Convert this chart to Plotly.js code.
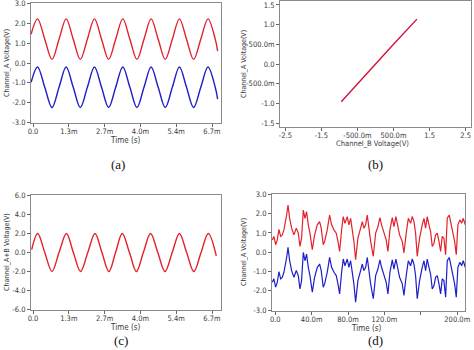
<!DOCTYPE html>
<html>
<head>
<meta charset="utf-8">
<script src="https://cdn.plot.ly/plotly-3.0.1.min.js"></script>
<style>
html,body{margin:0;padding:0;background:#fff;}
#chart{width:474px;height:350px;}
</style>
</head>
<body>
<div id="chart"></div>
<script>
// ---------- (a) Channel A / Channel B vs time (ms) ----------
const timeA = [-0.07,0.17,0.44,0.71,0.975,1.24,1.505,1.77,2.035,2.30,2.565,2.83,3.095,3.36,3.625,3.89,4.155,4.42,4.685,4.95,5.215,5.48,5.745,6.01,6.28,6.55,6.82,6.91];
const chanA_a = [1.45,2.22,1.20,0.18,1.20,2.22,1.20,0.18,1.20,2.22,1.20,0.18,1.20,2.22,1.20,0.18,1.20,2.22,1.20,0.18,1.20,2.22,1.20,0.18,1.20,2.22,1.20,0.60];
const chanB_a = [-0.97,-0.20,-1.22,-2.24,-1.22,-0.20,-1.22,-2.24,-1.22,-0.20,-1.22,-2.24,-1.22,-0.20,-1.22,-2.24,-1.22,-0.20,-1.22,-2.24,-1.22,-0.20,-1.22,-2.24,-1.22,-0.20,-1.22,-1.82];

// ---------- (b) Channel A vs Channel B ----------
const chanB_b = [-0.95,-0.50,0.00,0.50,1.15];
const chanA_b = [-0.96,-0.50,0.00,0.50,1.14];

// ---------- (c) Channel A+B vs time (ms) ----------
const timeC = [-0.05,0.175,0.44,0.71,0.975,1.25,1.51,1.78,2.05,2.32,2.58,2.84,3.09,3.34,3.61,3.87,4.13,4.40,4.67,4.94,5.21,5.48,5.75,6.02,6.29,6.56,6.86];
const chanAB_c = [0.30,2.0,0.0,-2.0,0.0,2.0,0.0,-2.0,0.0,2.0,0.0,-2.0,0.0,2.0,0.0,-2.0,0.0,2.0,0.0,-2.0,0.0,2.0,0.0,-2.0,0.0,2.0,-0.35];

// ---------- (d) noisy Channel A / Channel B vs time (ms) ----------
const timeD = [-3.3,-1.5,0.4,2.2,4.0,5.9,7.7,9.5,12.5,14.0,
  15.8,18.0,20.5,23.1,25.3,27.1,28.9,30.8,32.6,34.4,
  36.3,38.1,40.7,43.2,46.2,48.7,50.5,52.7,54.2,57.1,
  59.7,61.9,64.5,67.0,68.9,70.7,72.9,74.7,76.6,79.1,
  80.9,82.8,84.6,86.4,88.3,90.8,93.8,95.6,97.4,99.3,
  101.1,102.9,104.8,107.7,110.3,112.8,115.0,116.8,119.4,121.9,
  123.8,126.0,128.6,130.4,132.6,134.8,136.6,139.6,141.4,143.9,
  146.2,148.7,150.5,152.4,154.2,156.0,158.6,161.5,163.4,165.2,
  167.0,168.9,170.7,172.5,174.4,176.2,178.0,179.9,181.7,183.5,
  185.3,187.2,189.0,191.2,193.4,195.2,197.1,198.9,200.7,202.9,
  204.8,206.6,208.8,210.3];
const chanA_d = [0.64,0.82,0.39,0.64,1.19,0.82,0.90,1.16,1.93,2.45,
  1.76,1.25,0.90,1.25,0.99,0.30,0.73,2.19,1.76,2.10,
  1.42,0.99,0.13,0.90,1.42,1.59,1.25,0.39,0.56,1.16,
  1.93,1.42,1.16,0.99,0.56,0.04,1.16,1.85,1.50,1.85,
  1.42,1.76,1.16,0.56,-0.39,0.73,1.25,1.59,1.25,1.42,
  1.93,1.16,0.56,-0.21,0.99,1.33,1.80,1.42,1.07,0.64,
  0.04,1.16,1.80,1.33,1.85,1.25,0.90,0.56,-0.04,0.99,
  1.76,1.50,1.85,1.59,0.99,-0.21,0.73,1.42,1.76,1.25,
  1.85,1.42,1.07,0.30,0.47,0.90,0.99,0.56,0.04,0.82,
  0.73,-0.13,1.76,1.93,1.42,0.90,0.56,-0.13,1.42,1.68,
  1.50,1.76,1.42,1.59];
const chanB_d = [-1.56,-1.38,-1.81,-1.56,-1.01,-1.38,-1.30,-1.04,-0.27,0.25,
  -0.44,-0.95,-1.30,-0.95,-1.21,-1.90,-1.47,-0.01,-0.44,-0.10,
  -0.78,-1.21,-2.07,-1.30,-0.78,-0.61,-0.95,-1.81,-1.64,-1.04,
  -0.27,-0.78,-1.04,-1.21,-1.64,-2.16,-1.04,-0.35,-0.70,-0.35,
  -0.78,-0.44,-1.04,-1.64,-2.59,-1.47,-0.95,-0.61,-0.95,-0.78,
  -0.27,-1.04,-1.64,-2.41,-1.21,-0.87,-0.40,-0.78,-1.13,-1.56,
  -2.16,-1.04,-0.40,-0.87,-0.35,-0.95,-1.30,-1.64,-2.24,-1.21,
  -0.44,-0.70,-0.35,-0.61,-1.21,-2.41,-1.47,-0.78,-0.44,-0.95,
  -0.35,-0.78,-1.13,-1.90,-1.73,-1.30,-1.21,-1.64,-2.16,-1.38,
  -1.47,-2.33,-0.44,-0.27,-0.78,-1.30,-1.64,-2.33,-0.78,-0.52,
  -0.70,-0.44,-0.78,-0.61];

// ---------- tick labels ----------
const timeTickVals = [0,1.34,2.68,4.02,5.36,6.7];
const timeTickText = ["0.0","1.3m","2.7m","4.0m","5.4m","6.7m"];
const voltTickVals3 = [-3,-2,-1,0,1,2,3];
const voltTickText3 = ["-3.0","-2.0","-1.0","0.0","1.0","2.0","3.0"];
const bxTickVals = [-2.5,-1.5,-0.5,0.5,1.5,2.5];
const bxTickText = ["-2.5","-1.5","-500.0m","500.0m","1.5","2.5"];
const byTickVals = [-1.5,-1,-0.5,0,0.5,1,1.5];
const byTickText = ["-1.5","-1.0","-500.0m","0.0","500.0m","1.0","1.5"];
const cyTickVals = [-6,-4,-2,0,2,4,6];
const cyTickText = ["-6.0","-4.0","-2.0","0.0","2.0","4.0","6.0"];
const dxTickVals = [0,40,80,120,160,200];
const dxTickText = ["0.0","40.0m","80.0m","120.0m","","200.0m"];

const RED = '#e3212b', BLUE = '#1f1fc8', CRIMSON = '#d8113a';
const W = 474, H = 350;
const FONT = "'Liberation Sans Narrow', 'DejaVu Sans Condensed', 'Liberation Sans', Arial, sans-serif";

function xd(l, r){ return [l/W, r/W]; }
function yd(t, b){ return [1 - b/H, 1 - t/H]; }

function axis(extra){
  return Object.assign({
    showgrid:false, zeroline:false, showline:true, linecolor:'#8a8a8a', linewidth:1, mirror:true,
    ticks:'outside', ticklen:3, tickcolor:'#666', tickwidth:1, ticklabeloverflow:'allow',
    tickmode:'array', tickfont:{family:FONT, size:7.5, color:'#3a3a3a'}, fixedrange:true
  }, extra);
}

const traces = [
  {x:timeA, y:chanA_a, xaxis:'x', yaxis:'y', mode:'lines', line:{color:RED, width:1.4, shape:'spline'}},
  {x:timeA, y:chanB_a, xaxis:'x', yaxis:'y', mode:'lines', line:{color:BLUE, width:1.4, shape:'spline'}},
  {x:chanB_b, y:chanA_b, xaxis:'x2', yaxis:'y2', mode:'lines', line:{color:CRIMSON, width:1.4}},
  {x:timeC, y:chanAB_c, xaxis:'x3', yaxis:'y3', mode:'lines', line:{color:RED, width:1.4, shape:'spline'}},
  {x:timeD, y:chanA_d, xaxis:'x4', yaxis:'y4', mode:'lines', line:{color:RED, width:1.2}},
  {x:timeD, y:chanB_d, xaxis:'x4', yaxis:'y4', mode:'lines', line:{color:BLUE, width:1.2}}
];

function ann(text, x, y, size, opts){
  return Object.assign({text:text, x:x/W, y:1-y/H, xref:'paper', yref:'paper', showarrow:false,
    font:{family:FONT, size:size, color:'#3a3a3a'}, xanchor:'center', yanchor:'middle'}, opts||{});
}
const SERIF = "'Liberation Serif', 'DejaVu Serif', 'Times New Roman', serif";

const layout = {
  width:W, height:H, margin:{l:0,r:0,t:0,b:0},
  paper_bgcolor:'#fff', plot_bgcolor:'#fff', showlegend:false,
  xaxis: axis({domain:xd(31,221), range:[-0.075,7.036], anchor:'y', tickvals:timeTickVals, ticktext:timeTickText, ticklabelstandoff:-2}),
  yaxis: axis({domain:yd(3,123), range:[-3.02,3.02], anchor:'x', tickvals:voltTickVals3, ticktext:voltTickText3}),
  xaxis2: axis({domain:xd(280,471), range:[-2.65,2.65], anchor:'y2', tickvals:bxTickVals, ticktext:bxTickText, ticklabelstandoff:-2}),
  yaxis2: axis({domain:yd(1,127), range:[-1.6,1.6], anchor:'x2', tickvals:byTickVals, ticktext:byTickText}),
  xaxis3: axis({domain:xd(31,221), range:[-0.075,7.036], anchor:'y3', tickvals:timeTickVals, ticktext:timeTickText, ticklabelstandoff:-2}),
  yaxis3: axis({domain:yd(195,310), range:[-6.05,6.05], anchor:'x3', tickvals:cyTickVals, ticktext:cyTickText}),
  xaxis4: axis({domain:xd(272,465), range:[-3.6,208.5], anchor:'y4', tickvals:dxTickVals, ticktext:dxTickText, ticklabelstandoff:-2}),
  yaxis4: axis({domain:yd(194,310.5), range:[-3.02,3.02], anchor:'x4', tickvals:voltTickVals3, ticktext:voltTickText3}),
  annotations:[
    ann('Channel_A Voltage(V)', 7, 63, 7, {textangle:-90}),
    ann('Time (s)', 125, 141, 8),
    ann('(a)', 118, 164, 13, {font:{family:SERIF, size:13, color:'#111'}}),
    ann('Channel_A Voltage(V)', 244, 64, 7, {textangle:-90}),
    ann('Channel_B Voltage(V)', 372, 143, 7.5),
    ann('(b)', 375, 164, 13, {font:{family:SERIF, size:13, color:'#111'}}),
    ann('Channel_A+B Voltage(V)', 7, 252, 7, {textangle:-90}),
    ann('Time (s)', 125, 327, 8),
    ann('(c)', 121.5, 340.5, 13, {font:{family:SERIF, size:13, color:'#111'}}),
    ann('Channel_A Voltage(V)', 244, 252, 7, {textangle:-90}),
    ann('Time (s)', 366, 328.5, 8),
    ann('(d)', 375, 340.5, 13, {font:{family:SERIF, size:13, color:'#111'}})
  ]
};

Plotly.newPlot('chart', traces, layout, {staticPlot:true, displayModeBar:false});
</script>
</body>
</html>
